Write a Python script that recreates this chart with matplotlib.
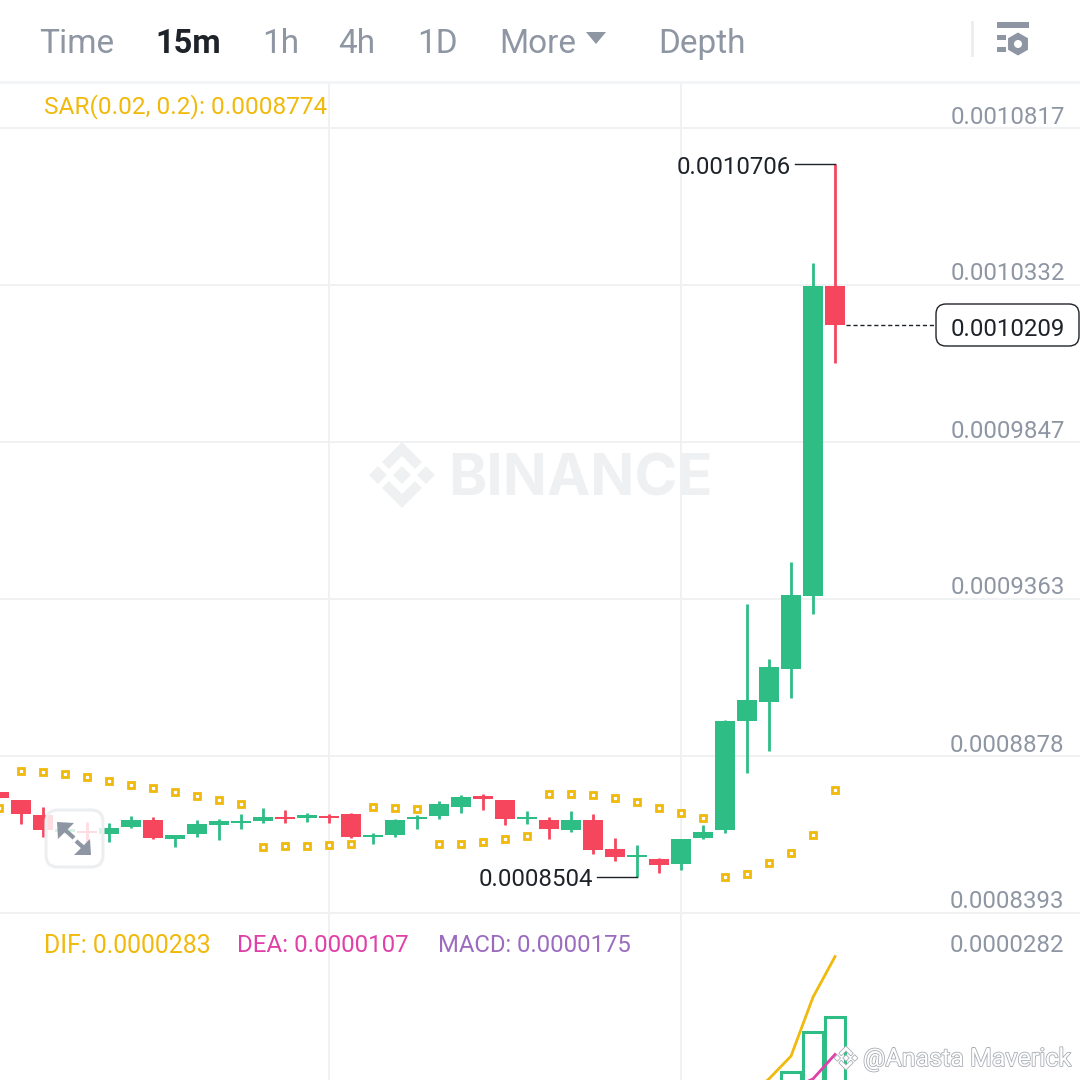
import matplotlib
matplotlib.use('Agg')
import matplotlib.pyplot as plt
import matplotlib.patheffects as pe
from matplotlib.patches import Polygon, FancyBboxPatch, Circle, RegularPolygon

plt.rcParams['font.family'] = ['Roboto', 'DejaVu Sans']

# prices in units of 0.0000001
opens = [8767, 8742, 8696, 8643, 8646, 8637, 8659, 8680, 8622, 8637, 8665, 8671, 8677,
         8690, 8686, 8693, 8699, 8628, 8634, 8683, 8693, 8720, 8754, 8742, 8683, 8680,
         8649, 8680, 8591, 8566, 8560, 8544, 8625, 8649, 8986, 9045, 9147, 9372, 10330]
highs = [8767, 8742, 8720, 8655, 8674, 8671, 8693, 8690, 8634, 8680, 8683, 8699, 8717,
         8711, 8702, 8699, 8702, 8640, 8683, 8696, 8739, 8758, 8761, 8742, 8708, 8690,
         8708, 8699, 8625, 8603, 8563, 8622, 8665, 8989, 9348, 9178, 9477, 10401, 10706]
lows = [8748, 8668, 8628, 8640, 8609, 8612, 8656, 8622, 8597, 8628, 8618, 8652, 8671,
        8671, 8674, 8671, 8625, 8606, 8628, 8652, 8683, 8702, 8711, 8665, 8668, 8622,
        8643, 8575, 8554, 8504, 8517, 8526, 8622, 8640, 8825, 8893, 9057, 9317, 10092]
closes = [8748, 8699, 8649, 8652, 8640, 8656, 8680, 8625, 8634, 8668, 8677, 8677, 8690,
          8683, 8696, 8686, 8628, 8634, 8680, 8690, 8730, 8751, 8745, 8683, 8690, 8652,
          8680, 8588, 8566, 8572, 8541, 8622, 8643, 8986, 9051, 9153, 9375, 10330, 10209]
sar = [8717, 8832, 8829, 8822, 8813, 8801, 8788, 8779, 8767, 8754, 8742, 8730, 8597,
       8600, 8600, 8603, 8606, 8720, 8717, 8714, 8606, 8606, 8612, 8622, 8631, 8761,
       8761, 8758, 8748, 8736, 8717, 8702, 8686, 8504, 8513, 8547, 8578, 8634, 8773]

macd_idx = [34, 35, 36, 37, 38]
dif = [30, 63, 104, 210, 283]
dea = [15, 30, 45, 63, 107]
macd = [10, 30, 76, 148, 175]

price_ticks = [10817, 10332, 9847, 9363, 8878, 8393]
macd_tick = '0.0000282'
grid_candles = [15, 31]
high_label = '0.0010706'
low_label = '0.0008504'
last_label = '0.0010209'
tabs = ['Time', '15m', '1h', '4h', '1D', 'More', 'Depth']
tab_x = [39, 155, 262, 338, 417, 499, 658]

GREEN = '#2EBD85'
RED = '#F6465D'
YELLOW = '#F0B90B'
GRID = '#EFF1F3'
GREY = '#8E96A3'
DARK = '#1E2329'
WM = '#EEF0F1'

fig = plt.figure(figsize=(10.8, 10.8), dpi=100)


def px_axes(top, bottom):
    return [0, 1 - bottom / 1080, 1, (bottom - top) / 1080]


# pixel layer behind the chart, for the watermark
bg = fig.add_axes([0, 0, 1, 1], zorder=0)
bg.set_xlim(0, 1080)
bg.set_ylim(1080, 0)
bg.axis('off')


def logo(a, cx, cy, s, **kw):
    # s is half the height of the whole mark
    u = s / 33
    shapes = [
        [(0, -9), (9, 0), (0, 9), (-9, 0)],
        [(-24, -9), (-15, 0), (-24, 9), (-33, 0)],
        [(24, -9), (33, 0), (24, 9), (15, 0)],
        [(0, -33), (20, -13), (13, -6), (0, -19), (-13, -6), (-20, -13)],
        [(0, 33), (20, 13), (13, 6), (0, 19), (-13, 6), (-20, 13)],
    ]
    for sh in shapes:
        a.add_patch(Polygon([(cx + x * u, cy + y * u) for x, y in sh], **kw))


logo(bg, 402, 475, 33, fc=WM, ec='none')
bg.text(448, 480, 'BINANCE', color=WM, fontsize=41.7, fontweight='bold', va='center', ha='left',
        family=['Inter', 'DejaVu Sans'])

# main price panel
x_lim = (1 / 22, 1081 / 22)
ax = fig.add_axes(px_axes(82, 913), zorder=1)
ax.patch.set_alpha(0)
ax.set_xlim(x_lim)
ax.set_ylim(8393, 8393 + 831 * 3.089)
ax.axis('off')
for t in price_ticks:
    ax.axhline(t, color=GRID, lw=1.4, zorder=1, clip_on=False)
for c in grid_candles:
    ax.axvline(c, color=GRID, lw=1.4, zorder=1)

for i in range(len(opens)):
    col = GREEN if closes[i] >= opens[i] else RED
    ax.vlines(i, lows[i], highs[i], color=col, lw=2, zorder=3)
    body = abs(closes[i] - opens[i])
    ax.bar(i, body, bottom=min(opens[i], closes[i]), width=0.88, color=col, zorder=3)

ax.plot(range(len(sar)), sar, ls='none', marker='s', ms=3.8, mfc='white', mec=YELLOW, mew=2, zorder=4)

# macd panel
ax2 = fig.add_axes(px_axes(913, 1080), zorder=1)
ax2.patch.set_alpha(0)
ax2.set_xlim(x_lim)
ax2.set_ylim(61, 361.5)
ax2.axis('off')
for c in grid_candles:
    ax2.axvline(c, color=GRID, lw=1.4, zorder=1)
ax2.bar(macd_idx, macd, width=0.9, fc='none', ec=GREEN, lw=2.2, zorder=3)
ax2.plot(macd_idx, dif, color=YELLOW, lw=2, zorder=4)
ax2.plot(macd_idx, dea, color='#E040A8', lw=2, zorder=4)

# everything else sits on a pixel layer on top
ui = fig.add_axes([0, 0, 1, 1], zorder=2)
ui.patch.set_alpha(0)
ui.set_xlim(0, 1080)
ui.set_ylim(1080, 0)
ui.axis('off')

ui.plot([0, 1080], [82, 82], color='#F3F4F6', lw=2)
for name, x in zip(tabs, tab_x):
    if name == '15m':
        ui.text(x, 44, name, color=DARK, fontsize=23.5, fontweight='bold', va='center')
    else:
        ui.text(x, 44, name, color=GREY, fontsize=24, va='center')
ui.add_patch(Polygon([(586, 32), (606, 32), (596, 44)], fc=GREY, ec='none', joinstyle='round'))
ui.plot([972, 972], [22, 55], color='#EAECEF', lw=2)
ui.add_patch(plt.Rectangle((997, 22), 32, 6, fc=GREY, ec='none'))
ui.add_patch(plt.Rectangle((997, 35), 9, 5, fc=GREY, ec='none'))
ui.add_patch(plt.Rectangle((997, 47), 9, 5, fc=GREY, ec='none'))
ui.add_patch(RegularPolygon((1018, 44), 6, radius=11.5, fc=GREY, ec='none'))
ui.add_patch(Circle((1018, 44), 4, fc='white', ec='none'))

for t, y in zip(price_ticks, [117, 274, 431, 588, 745, 902]):
    ui.text(1064.5, y, f'{t * 1e-7:.7f}', color=GREY, fontsize=17.3, ha='right', va='center')
ui.text(1064.5, 945, macd_tick, color=GREY, fontsize=17.3, ha='right', va='center')

ui.text(44, 107, 'SAR(0.02, 0.2): 0.0008774', color=YELLOW, fontsize=17.55, va='center')
ui.text(44, 946, 'DIF: 0.0000283', color=YELLOW, fontsize=17.9, va='center')
ui.text(237, 946, 'DEA: 0.0000107', color='#E040A8', fontsize=17.4, va='center')
ui.text(438, 946, 'MACD: 0.0000175', color='#9B6BBF', fontsize=17.2, va='center')

# high, low and last price tags
ui.plot([795, 835], [164, 164], color=DARK, lw=1)
ui.text(791, 167, high_label, color=DARK, fontsize=17.3, ha='right', va='center')
ui.plot([597, 637], [877, 877], color=DARK, lw=1)
ui.text(593.5, 880, low_label, color=DARK, fontsize=17.3, ha='right', va='center')
ui.plot([846, 936], [325, 325], color=DARK, lw=1, ls=(0, (3, 2)))
ui.add_patch(FancyBboxPatch((944, 312), 127, 26, boxstyle='round,pad=8,rounding_size=10',
                            fc='white', ec=DARK, lw=1))
ui.text(1064.5, 330, last_label, color=DARK, fontsize=17.3, ha='right', va='center')

# expand button
ui.add_patch(FancyBboxPatch((57, 821), 35, 35, boxstyle='round,pad=11,rounding_size=12',
                            fc=(1, 1, 1, 0.82), ec='#ECEEF0', lw=2.2))
ui.add_patch(Polygon([(57, 822), (74, 823), (58, 839)], fc=GREY, ec='none'))
ui.plot([64, 74], [829, 838], color=GREY, lw=3, solid_capstyle='butt')
ui.add_patch(Polygon([(91, 855), (74, 855), (90, 839)], fc=GREY, ec='none'))
ui.plot([76, 85], [841, 849], color=GREY, lw=3, solid_capstyle='butt')

# square's watermark, bottom right
logo(ui, 846, 1058, 12, fc='white', ec='#A8ADB3', lw=0.6)
ui.text(863, 1059, '@Anasta Maverick', color='white', fontsize=18, va='center',
        path_effects=[pe.withStroke(linewidth=1.2, foreground='#A8ADB3')])

fig.savefig('out.png', dpi=100)
